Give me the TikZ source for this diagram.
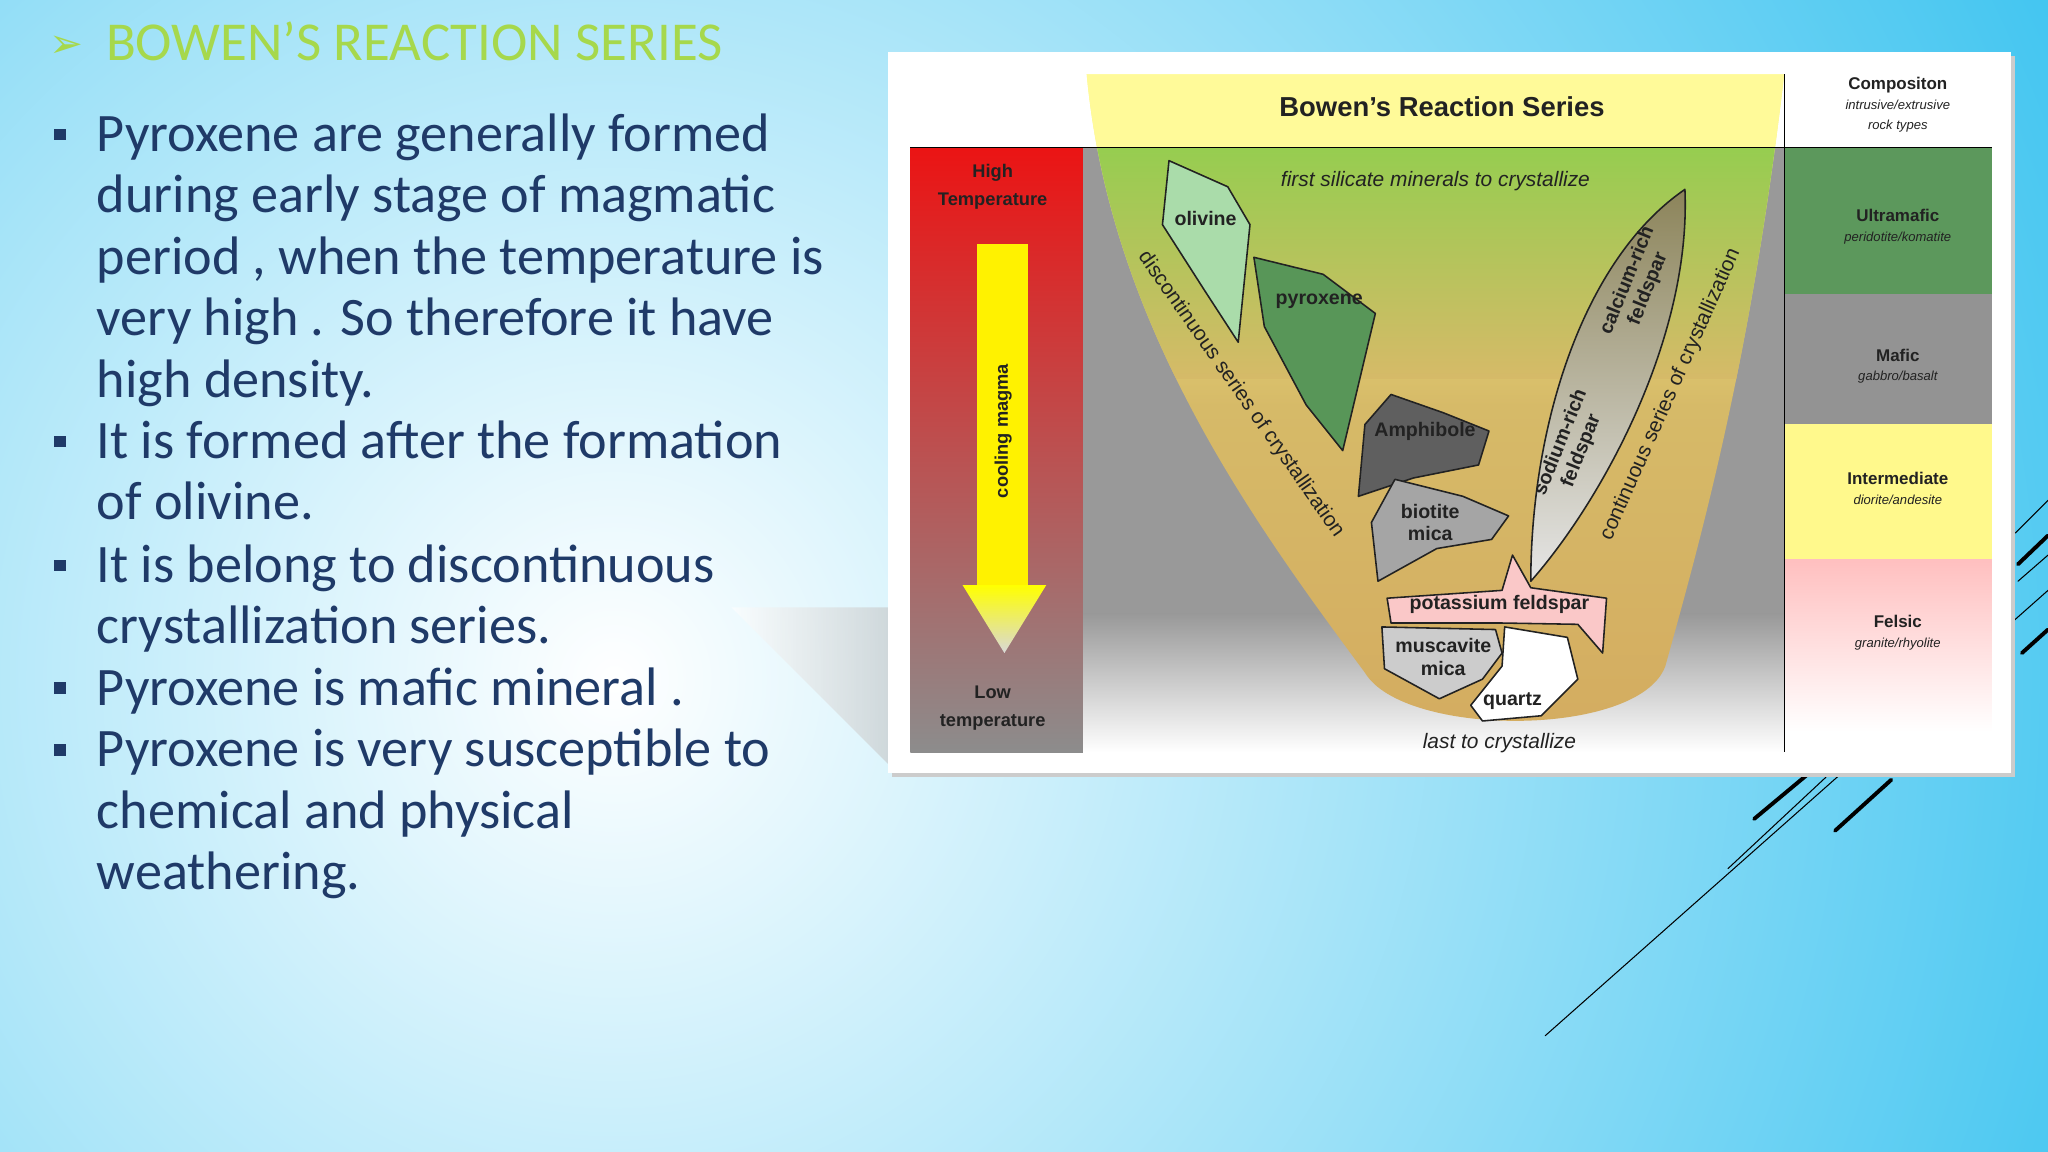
\documentclass[tikz,border=0pt]{standalone}
\usepackage{fontspec}
\setmainfont{Carlito}
\newfontfamily\dg{DejaVu Sans}
\newfontfamily\ar{Liberation Sans}
\definecolor{bgc}{HTML}{3EC4F0}
\definecolor{txt}{HTML}{1F3A68}
\definecolor{ttl}{HTML}{A6D84C}
\definecolor{dk}{HTML}{222222}
\definecolor{tan}{RGB}{212,172,96}
\definecolor{tanm}{RGB}{214,186,104}
\definecolor{grn}{RGB}{150,205,80}
\definecolor{umc}{RGB}{92,152,92}
\definecolor{olc}{RGB}{170,220,170}
\definecolor{pyc}{RGB}{88,150,88}
\definecolor{amc}{RGB}{95,95,95}
\definecolor{bic}{RGB}{165,165,165}
\definecolor{cac}{RGB}{140,132,90}
\definecolor{kfc}{RGB}{250,200,200}
\definecolor{redc}{RGB}{235,20,20}
\begin{document}
\begin{tikzpicture}[x=1pt,y=1pt,
  bline/.style={anchor=base west,inner sep=0,text=txt,font=\fontsize{41.5}{44}\selectfont},
  blt/.style={fill=txt,minimum size=9pt,inner sep=0},
  mineral/.style={draw=dk,line width=1.2pt,line join=round},
  mlab/.style={text=dk,font=\ar\bfseries\fontsize{15}{17}\selectfont,align=center,inner sep=0},
  slab/.style={text=dk,font=\ar\fontsize{10}{11}\selectfont,align=center,inner sep=0},
  deco/.style={black,line cap=round}]
\useasboundingbox (0,0) rectangle (1568,-882);
\fill[bgc] (0,0) rectangle (1568,-882);
\begin{scope}
\clip (0,0) rectangle (1568,-882);
\shade[inner color=white,outer color=bgc] (470,-520) circle (1250);
\end{scope}
% slide title
\node[anchor=base west,inner sep=0,text=ttl,font=\fontsize{31}{33}\selectfont\dg] (arr) at (38,-44) {➢};
\node[anchor=base west,inner sep=0,text=ttl,font=\fontsize{42}{44}\selectfont] (title) at (81,-46) {BOWEN’S REACTION SERIES};
% bullets
\foreach \y in {103,338,433,527,574} \node[blt] at (46,-\y) {};
\node[bline] (l1) at (74,-116) {Pyroxene are generally formed};
\node[bline] (l2) at (74,-163) {during early stage of magmatic};
\node[bline] (l3) at (74,-210) {period , when the temperature is};
\node[bline] (l4) at (74,-257) {very high . So therefore it have};
\node[bline] (l5) at (74,-304) {high density.};
\node[bline] (l6) at (74,-351) {It is formed after the formation};
\node[bline] (l7) at (74,-398) {of olivine.};
\node[bline] (l8) at (74,-446) {It is belong to discontinuous};
\node[bline] (l9) at (74,-493) {crystallization series.};
\node[bline] (l10) at (74,-540) {Pyroxene is mafic mineral .};
\node[bline] (l11) at (74,-587) {Pyroxene is very susceptible to};
\node[bline] (l12) at (74,-634) {chemical and physical};
\node[bline] (l13) at (74,-681) {weathering.};
% shadow
\shade[left color=white,right color=gray!45,opacity=0.6] (560,-465) -- (680,-465) -- (680,-585) -- cycle;
% decorative lines
\draw[deco,line width=0.8pt] (1183,-793) -- (1568,-452);
\draw[deco,line width=0.8pt] (1323,-665) -- (1398,-595);
\draw[deco,line width=3pt] (1343,-627) -- (1385,-592);
\draw[deco,line width=3pt] (1405,-636) -- (1448,-597);
\draw[deco,line width=0.8pt] (1543,-408) -- (1568,-383);
\draw[deco,line width=3pt] (1545,-432) -- (1568,-410);
\draw[deco,line width=0.8pt] (1545,-445) -- (1568,-425);
\draw[deco,line width=3pt] (1548,-500) -- (1568,-482);
% diagram frame
\fill[gray!40] (683,-43) rectangle (1543,-595);
\fill[white] (680,-40) rectangle (1540,-592);
% middle gray panel
\fill[gray!80] (829,-113) rectangle (1366,-470);
\shade[top color=gray!80,bottom color=white] (829,-470) rectangle (1366,-576);
% left column
\shade[top color=redc,middle color=redc!75!gray,bottom color=gray!90] (697,-113) rectangle (829,-576);
% funnel
\def\funnel{(832,-57) -- (1366,-57) .. controls (1340,-280) and (1300,-420) .. (1275,-510)
  .. controls (1255,-565) and (1075,-565) .. (1045,-515)
  .. controls (960,-400) and (850,-250) .. (832,-57) -- cycle}
\shade[top color=yellow!45,bottom color=tan,middle color=tanm] \funnel;
\begin{scope}
\clip \funnel;
\fill[yellow!40!white] (820,-50) rectangle (1380,-113);
\shade[top color=grn,bottom color=tanm] (820,-113) rectangle (1380,-290);
\end{scope}
% right column
\fill[umc] (1366,-113) rectangle (1525,-225);
\fill[gray!85] (1366,-225) rectangle (1525,-325);
\fill[yellow!45] (1366,-325) rectangle (1525,-428);
\shade[top color=red!25,bottom color=white] (1366,-428) rectangle (1525,-560);
\draw[black,line width=1pt] (697,-113) -- (1525,-113);
\draw[black,line width=1pt] (1366,-57) -- (1366,-576);
% arrow
\fill[yellow] (748,-187) rectangle (787,-448);
\shade[top color=yellow,bottom color=gray!30] (737,-448) -- (801,-448) -- (769,-500) -- cycle;
\node[mlab,rotate=90,font=\ar\bfseries\fontsize{14}{15}\selectfont] (cool) at (768,-330) {cooling magma};
\node[mlab,font=\ar\bfseries\fontsize{14}{21}\selectfont] (high) at (760,-143) {High\\Temperature};
\node[mlab,font=\ar\bfseries\fontsize{14}{21}\selectfont] (low) at (760,-542) {Low\\temperature};
% titles
\node[mlab,font=\ar\bfseries\fontsize{21}{22}\selectfont] (brs) at (1104,-82) {Bowen’s Reaction Series};
\node[mlab,font=\ar\bfseries\fontsize{13}{14}\selectfont] (comp) at (1453,-65) {Compositon};
\node[slab,font=\ar\itshape\fontsize{10}{15}\selectfont] (intr) at (1453,-89) {intrusive/extrusive\\rock types};
\node[mlab,font=\ar\bfseries\fontsize{13}{14}\selectfont] (um) at (1453,-165) {Ultramafic};
\node[slab,font=\ar\itshape\fontsize{10}{11}\selectfont] (um2) at (1453,-182) {peridotite/komatite};
\node[mlab,font=\ar\bfseries\fontsize{13}{14}\selectfont] (ma) at (1453,-272) {Mafic};
\node[slab,font=\ar\itshape\fontsize{10}{11}\selectfont] (ma2) at (1453,-289) {gabbro/basalt};
\node[mlab,font=\ar\bfseries\fontsize{13}{14}\selectfont] (in) at (1453,-366) {Intermediate};
\node[slab,font=\ar\itshape\fontsize{10}{11}\selectfont] (in2) at (1453,-383) {diorite/andesite};
\node[mlab,font=\ar\bfseries\fontsize{13}{14}\selectfont] (fe) at (1453,-476) {Felsic};
\node[slab,font=\ar\itshape\fontsize{10}{11}\selectfont] (fe2) at (1453,-493) {granite/rhyolite};
\node[mlab,font=\ar\itshape\fontsize{16}{17}\selectfont] (first) at (1099,-139) {first silicate minerals to crystallize};
\node[mlab,font=\ar\itshape\fontsize{16}{17}\selectfont] (last) at (1148,-569) {last to crystallize};
\node[mlab,font=\ar\fontsize{16}{17}\selectfont,rotate=-55] (disc) at (950,-302) {discontinuous series of crystallization};
\node[mlab,font=\ar\fontsize{16}{17}\selectfont,rotate=66] (cont) at (1279,-302) {continuous series of crystallization};
% minerals
\filldraw[mineral,fill=olc] (895,-123) -- (940,-143) -- (957,-172) -- (948,-262) -- (922,-222) -- (890,-172) -- cycle;
\node[mlab] (oli) at (923,-167) {olivine};
\filldraw[mineral,fill=pyc] (960,-197) -- (1013,-210) -- (1053,-240) -- (1028,-345) -- (1000,-310) -- (968,-250) -- cycle;
\node[mlab] (pyr) at (1010,-231) {pyroxene};
\filldraw[mineral,fill=amc] (1065,-302) -- (1105,-316) -- (1140,-330) -- (1132,-356) -- (1082,-366) -- (1040,-380) -- (1045,-325) -- cycle;
\node[mlab] (amp) at (1091,-330) {Amphibole};
\filldraw[mineral,fill=bic] (1068,-367) -- (1120,-380) -- (1155,-395) -- (1142,-413) -- (1100,-420) -- (1055,-445) -- (1050,-400) -- cycle;
\node[mlab] (bio) at (1095,-400) {biotite\\mica};
\shade[mineral,top color=cac,bottom color=gray!20] (1290,-145) .. controls (1295,-260) and (1225,-385) .. (1172,-445) .. controls (1172,-330) and (1210,-200) .. (1290,-145) -- cycle;
\node[mlab,rotate=68] (ca) at (1254,-218) {calcium-rich\\feldspar};
\node[mlab,rotate=68] (na) at (1203,-342) {sodium-rich\\feldspar};
\filldraw[mineral,fill=kfc] (1062,-458) -- (1150,-452) -- (1158,-425) -- (1172,-450) -- (1230,-458) -- (1227,-500) -- (1208,-478) -- (1150,-477) -- (1065,-477) -- cycle;
\node[mlab] (kf) at (1148,-463) {potassium feldspar};
\filldraw[mineral,fill=gray!40] (1058,-480) -- (1145,-482) -- (1150,-500) -- (1135,-520) -- (1102,-535) -- (1060,-512) -- cycle;
\node[mlab] (mus) at (1105,-503) {muscavite\\mica};
\filldraw[mineral,fill=white] (1152,-480) -- (1200,-488) -- (1208,-520) -- (1180,-548) -- (1135,-552) -- (1126,-540) -- (1150,-510) -- cycle;
\node[mlab] (qtz) at (1158,-537) {quartz};
\end{tikzpicture}
\end{document}
